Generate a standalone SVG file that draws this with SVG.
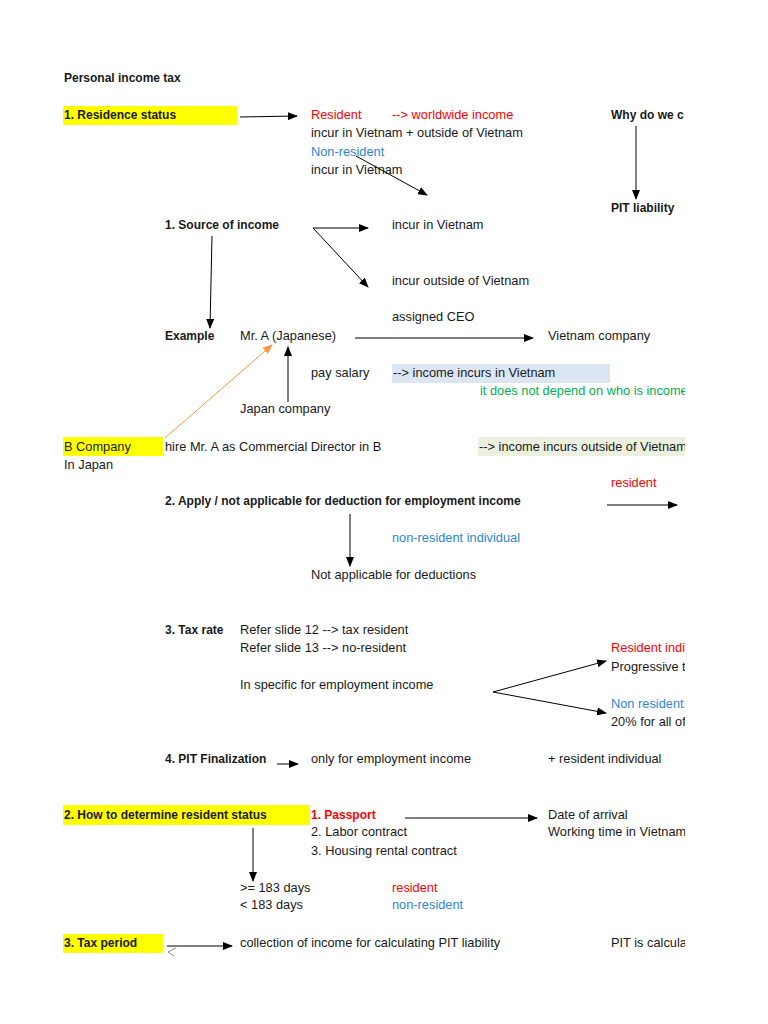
<svg xmlns="http://www.w3.org/2000/svg" width="768" height="1024" viewBox="0 0 768 1024">
<style>
text{font-family:"Liberation Sans",Arial,sans-serif;font-size:12.8px;fill:#1a1a1a}
.b{font-weight:bold;font-size:12px}
.red{fill:#ff0000}
.blue{fill:#2e86d6}
.green{fill:#00b050}
.hl{fill:#ffff00}
.ln{stroke:#000;stroke-width:1;fill:none}
</style>
<defs>
<marker id="ah" markerUnits="userSpaceOnUse" markerWidth="10" markerHeight="8" refX="9" refY="4" orient="auto">
<path d="M0,0 L10,4 L0,8 Z" fill="#000"/>
</marker>
<marker id="aho" markerUnits="userSpaceOnUse" markerWidth="10" markerHeight="8" refX="9" refY="4" orient="auto">
<path d="M0,0 L10,4 L0,8 Z" fill="#f79646"/>
</marker>
<clipPath id="clip"><rect x="0" y="0" width="685" height="1024"/></clipPath>
</defs>
<rect width="768" height="1024" fill="#fff"/>
<g clip-path="url(#clip)">
<g id="highlights">
<rect class="hl" x="63" y="106" width="174" height="19"/>
<rect class="hl" x="63" y="437" width="100" height="19"/>
<rect class="hl" x="63" y="805" width="247" height="20"/>
<rect class="hl" x="63" y="934" width="100" height="19"/>
<rect x="392" y="364" width="218" height="19" fill="#dce6f2"/>
<rect x="478" y="437" width="210" height="19" fill="#ebf1de"/>
</g>
<g id="connectors">
<line class="ln" x1="240" y1="117" x2="297" y2="116" marker-end="url(#ah)"/>
<line class="ln" x1="356" y1="156" x2="427" y2="195" marker-end="url(#ah)"/>
<line class="ln" x1="636" y1="126" x2="636" y2="199" stroke="#666" marker-end="url(#ah)"/>
<line class="ln" x1="313" y1="228" x2="368" y2="228" marker-end="url(#ah)"/>
<line class="ln" x1="313" y1="228" x2="368" y2="287" marker-end="url(#ah)"/>
<line class="ln" x1="212" y1="236" x2="210" y2="328" marker-end="url(#ah)"/>
<line class="ln" x1="355" y1="338" x2="533" y2="338" marker-end="url(#ah)"/>
<line class="ln" x1="288" y1="402" x2="288" y2="347" marker-end="url(#ah)"/>
<line x1="165" y1="438" x2="272" y2="345" stroke="#f79646" stroke-width="1" marker-end="url(#aho)"/>
<line class="ln" x1="607" y1="505" x2="677" y2="505" marker-end="url(#ah)"/>
<line class="ln" x1="350" y1="514" x2="350" y2="566" marker-end="url(#ah)"/>
<line class="ln" x1="493" y1="692" x2="606" y2="661" marker-end="url(#ah)"/>
<line class="ln" x1="493" y1="692" x2="606" y2="713" marker-end="url(#ah)"/>
<line class="ln" x1="277" y1="764" x2="298" y2="764" marker-end="url(#ah)"/>
<line class="ln" x1="405" y1="818" x2="537" y2="818" marker-end="url(#ah)"/>
<line class="ln" x1="253" y1="828" x2="253" y2="881" marker-end="url(#ah)"/>
<line class="ln" x1="167" y1="946" x2="232" y2="946" marker-end="url(#ah)"/>
<polyline points="176,948 168,952 174,956" fill="none" stroke="#888" stroke-width="1"/>
</g>
<g id="title"><text class="b" x="64" y="82">Personal income tax</text></g>
<g id="residence">
<text class="b" x="64" y="119">1. Residence status</text>
<text class="red" x="311" y="119">Resident</text>
<text class="red" x="392" y="119">--&gt; worldwide income</text>
<text x="311" y="137">incur in Vietnam + outside of Vietnam</text>
<text class="blue" x="311" y="156">Non-resident</text>
<text x="311" y="174">incur in Vietnam</text>
</g>
<g id="why">
<text class="b" x="611" y="119">Why do we c</text>
<text class="b" x="611" y="212">PIT liability</text>
</g>
<g id="source">
<text class="b" x="165" y="229">1. Source of income</text>
<text x="392" y="229">incur in Vietnam</text>
<text x="392" y="285">incur outside of Vietnam</text>
</g>
<g id="example">
<text x="392" y="321">assigned CEO</text>
<text class="b" x="165" y="340">Example</text>
<text x="240" y="340">Mr. A (Japanese)</text>
<text x="548" y="340">Vietnam company</text>
<text x="311" y="377">pay salary</text>
<text x="393" y="377">--&gt; income incurs in Vietnam</text>
<text class="green" x="480" y="395">it does not depend on who is income</text>
<text x="240" y="413">Japan company</text>
</g>
<g id="bcompany">
<text x="64" y="451">B Company</text>
<text x="165" y="451">hire Mr. A as Commercial Director in B</text>
<text x="479" y="451">--&gt; income incurs outside of Vietnam</text>
<text x="64" y="469">In Japan</text>
</g>
<g id="deduction">
<text class="red" x="611" y="487">resident</text>
<text class="b" x="165" y="505">2. Apply / not applicable for deduction for employment income</text>
<text class="blue" x="392" y="542">non-resident individual</text>
<text x="311" y="579">Not applicable for deductions</text>
</g>
<g id="taxrate">
<text class="b" x="165" y="634">3. Tax rate</text>
<text x="240" y="634">Refer slide 12 --&gt; tax resident</text>
<text x="240" y="652">Refer slide 13 --&gt; no-resident</text>
<text x="240" y="689">In specific for employment income</text>
<text class="red" x="611" y="652">Resident indi</text>
<text x="611" y="671">Progressive t</text>
<text class="blue" x="611" y="708">Non resident</text>
<text x="611" y="726">20% for all of</text>
</g>
<g id="finalization">
<text class="b" x="165" y="763">4. PIT Finalization</text>
<text x="311" y="763">only for employment income</text>
<text x="548" y="763">+ resident individual</text>
</g>
<g id="determine">
<text class="b" x="64" y="819">2. How to determine resident status</text>
<text class="b red" x="311" y="819">1. Passport</text>
<text x="311" y="836">2. Labor contract</text>
<text x="311" y="855">3. Housing rental contract</text>
<text x="548" y="819">Date of arrival</text>
<text x="548" y="836">Working time in Vietnam</text>
<text x="240" y="892">&gt;= 183 days</text>
<text class="red" x="392" y="892">resident</text>
<text x="240" y="909">&lt; 183 days</text>
<text class="blue" x="392" y="909">non-resident</text>
</g>
<g id="taxperiod">
<text class="b" x="64" y="947">3. Tax period</text>
<text x="240" y="947">collection of income for calculating PIT liability</text>
<text x="611" y="947">PIT is calculat</text>
</g>
</g>
</svg>
